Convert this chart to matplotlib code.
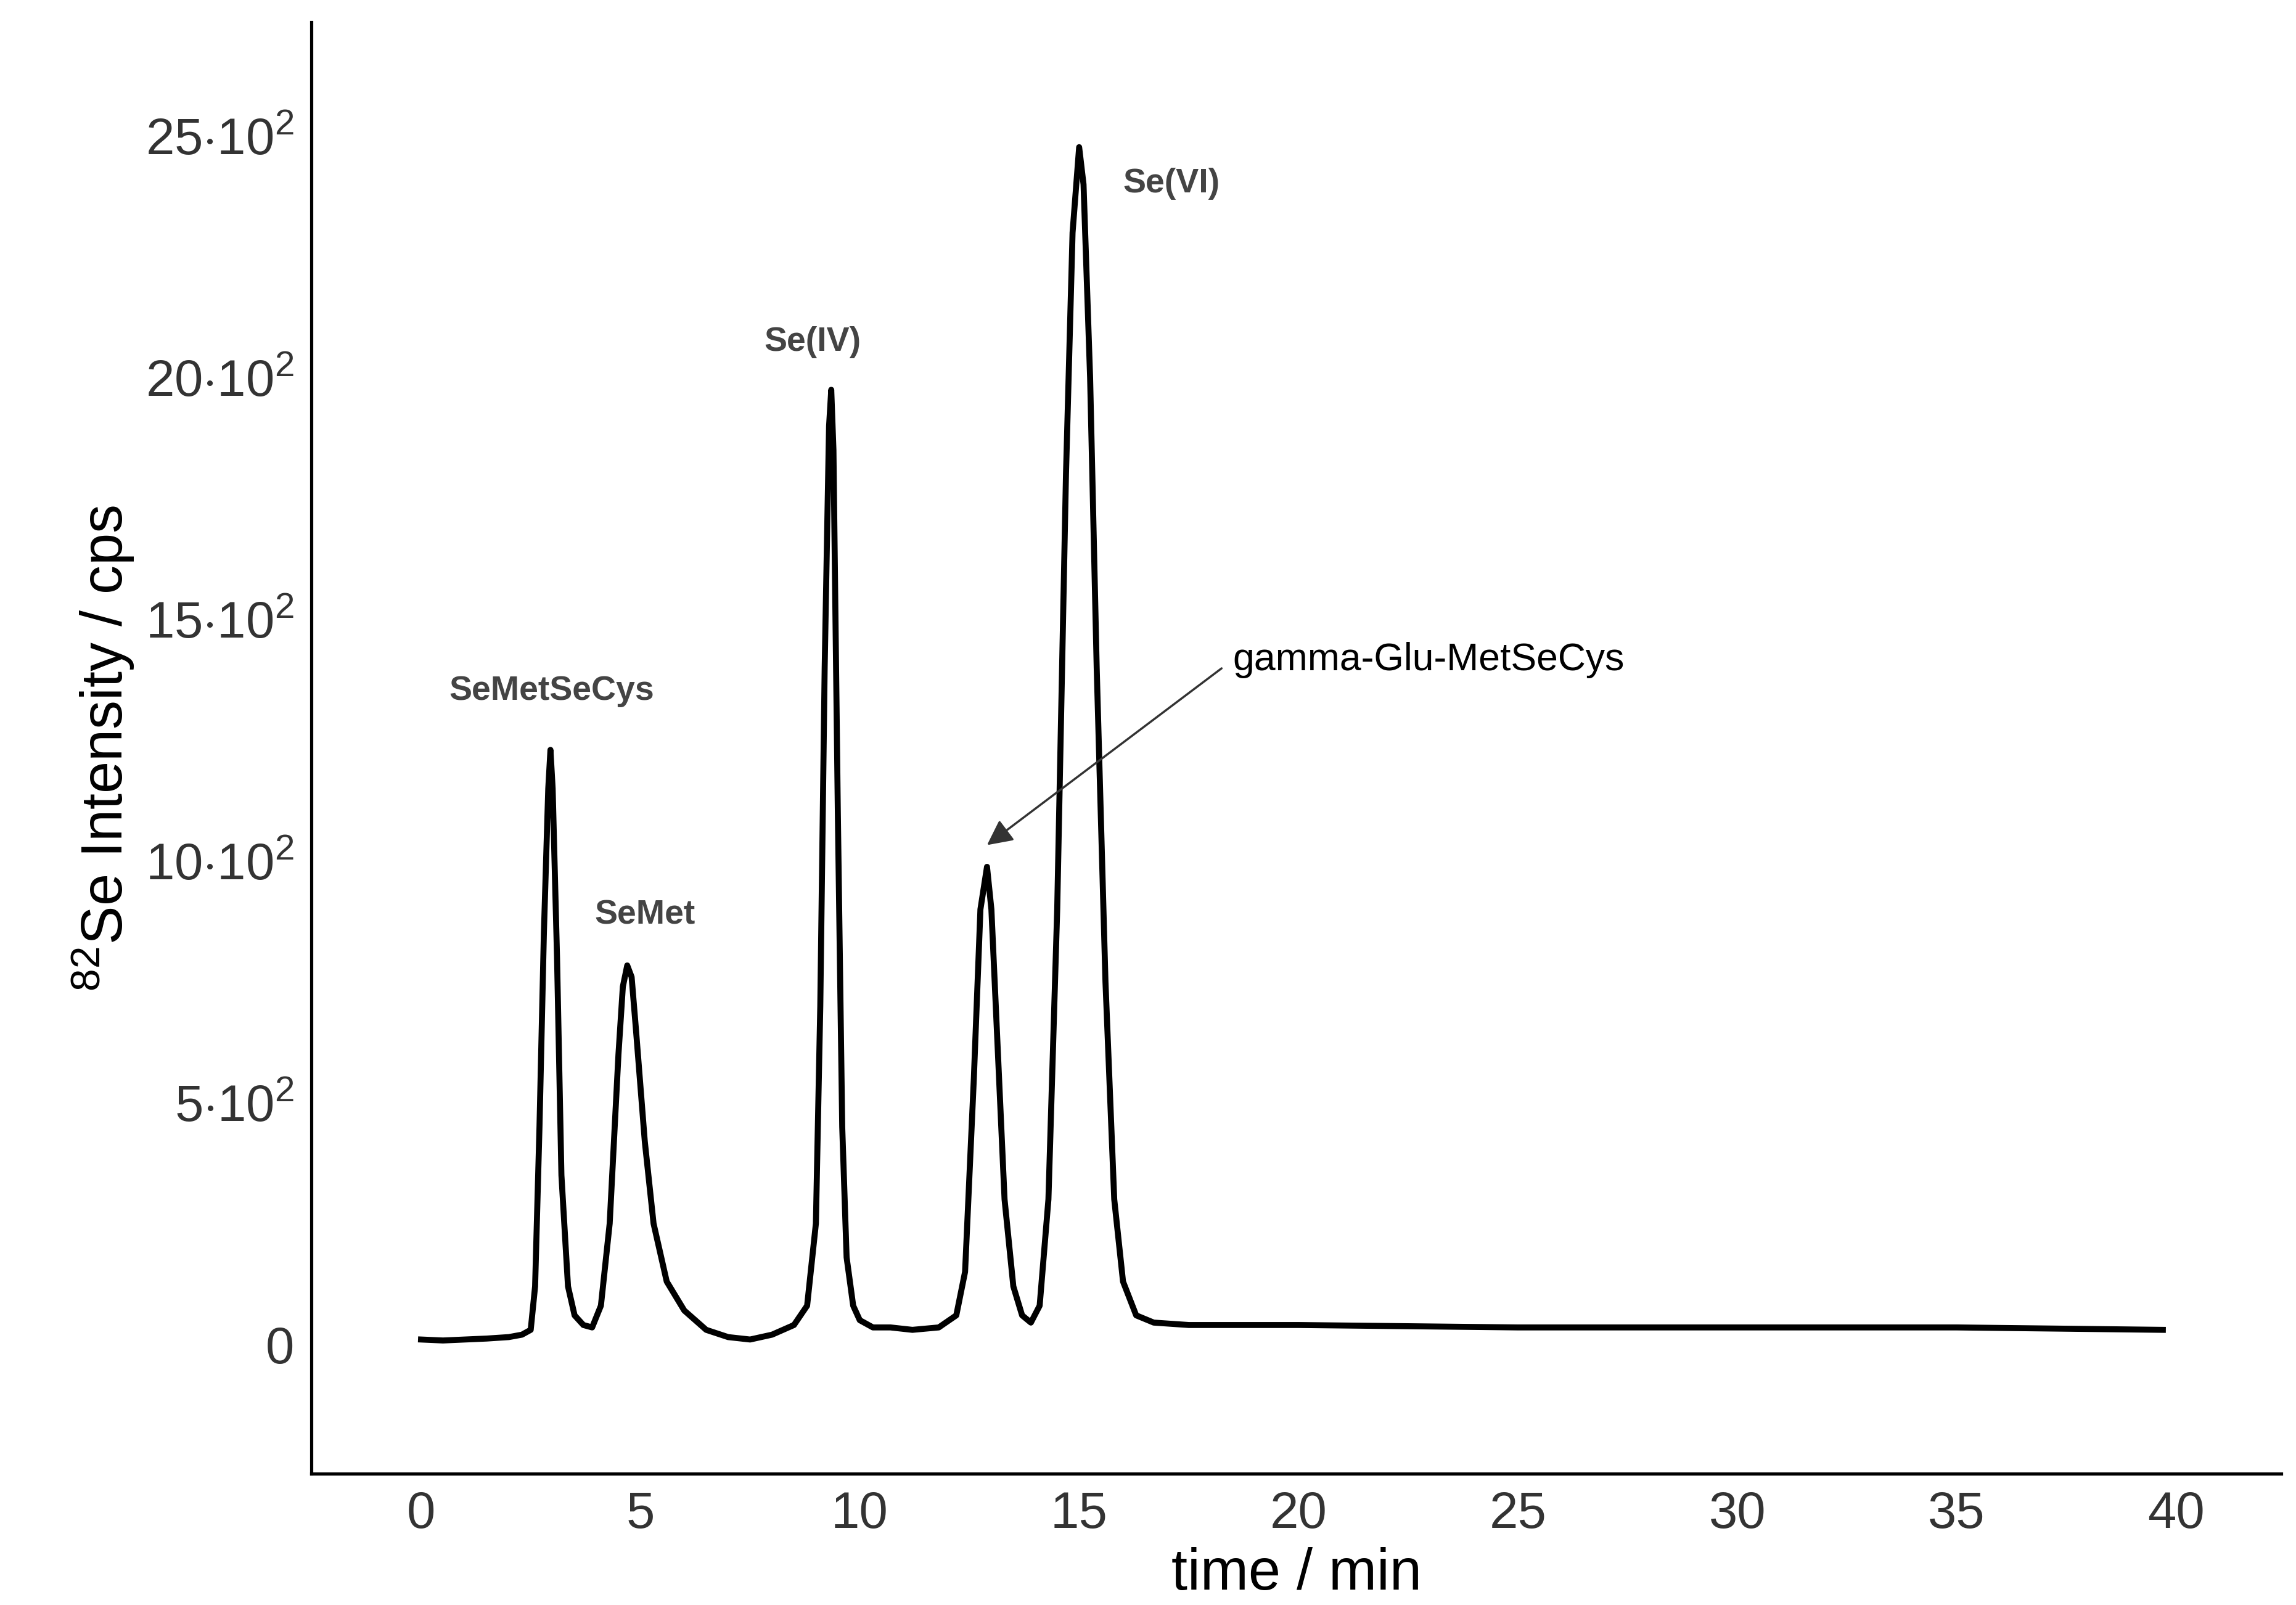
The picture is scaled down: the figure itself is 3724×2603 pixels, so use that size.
import matplotlib.pyplot as plt
import numpy as np

plt.rcParams['font.family'] = ['Liberation Sans', 'DejaVu Sans']
plt.rcParams['mathtext.fontset'] = 'custom'
plt.rcParams['mathtext.rm'] = 'Liberation Sans'

# readings from the chromatogram (time / min, intensity / cps)
time = [0.0, 0.5, 1.0, 1.5, 2.0, 2.3, 2.5, 2.6, 2.7, 2.8, 2.9, 2.95, 3.0, 3.1, 3.2, 3.35, 3.5, 3.7, 3.9,
        4.1, 4.3, 4.5, 4.6, 4.7, 4.8, 4.9, 5.1, 5.3, 5.6, 6.0, 6.5, 7.0, 7.5, 8.0, 8.5, 8.8, 9.0, 9.1, 9.2,
        9.3, 9.35, 9.4, 9.5, 9.6, 9.7, 9.85, 10.0, 10.3, 10.7, 11.2, 11.8, 12.2, 12.4, 12.6, 12.75, 12.9,
        13.0, 13.1, 13.3, 13.5, 13.7, 13.9, 14.1, 14.3, 14.5, 14.7, 14.85, 15.0, 15.1, 15.25, 15.4, 15.6,
        15.8, 16.0, 16.3, 16.7, 17.5, 20.0, 25.0, 30.0, 35.0, 39.7]
signal = [10, 8, 10, 12, 15, 20, 30, 120, 450, 850, 1150, 1230, 1150, 800, 350, 120, 60, 40, 35,
          80, 250, 600, 740, 784, 760, 650, 420, 250, 130, 70, 30, 15, 10, 20, 40, 80, 250, 700, 1400,
          1900, 1975, 1850, 1100, 450, 180, 80, 50, 35, 35, 30, 35, 60, 150, 550, 900, 988, 900, 700, 300,
          120, 60, 45, 80, 300, 900, 1800, 2300, 2477, 2400, 2000, 1400, 750, 300, 130, 60, 45, 40, 40, 35, 35, 35, 30]

peak_labels = ['SeMetSeCys', 'SeMet', 'Se(IV)', 'Se(VI)']
label_t = [2.98, 5.1, 8.93, 17.1]
label_y = [1352, 887, 2073, 2401]

xticks = [0, 5, 10, 15, 20, 25, 30, 35, 40]
yticks = [0, 500, 1000, 1500, 2000, 2500]
ytick_labels = ['0', r'5$\cdot$10$^2$', r'10$\cdot$10$^2$', r'15$\cdot$10$^2$', r'20$\cdot$10$^2$', r'25$\cdot$10$^2$']

fig = plt.figure(figsize=(14.896, 10.412), dpi=250)
ax = fig.add_axes([0.1356, 0.082, 0.858, 0.904])

ax.plot(time, signal, color='black', lw=2.8)

for lab, t, y in zip(peak_labels, label_t, label_y):
    ax.text(t, y, lab, ha='center', va='center', fontsize=16, color='#444444', fontweight='bold')

ax.annotate('gamma-Glu-MetSeCys', xy=(12.9, 1033), xytext=(18.5, 1416),
            fontsize=18, va='center', ha='left',
            arrowprops=dict(arrowstyle='-|>', color='#333333', lw=1, mutation_scale=25,
                            shrinkA=4, shrinkB=0, relpos=(0, 0.5)))

ax.set_xlim(-2.5, 42.4)
ax.set_ylim(-267, 2735)
ax.set_xticks(xticks)
ax.set_yticks(yticks)
ax.set_yticklabels(ytick_labels)
ax.tick_params(length=0, labelsize=24, colors='#333333', pad=8)
for s in ['top', 'right']:
    ax.spines[s].set_visible(False)
ax.spines['left'].set_linewidth(1.5)
ax.spines['bottom'].set_linewidth(1.5)

ax.set_xlabel('time / min', fontsize=27)
ax.set_ylabel(r'$^{82}$Se Intensity / cps', fontsize=27)

fig.savefig('out.png', dpi=250)
